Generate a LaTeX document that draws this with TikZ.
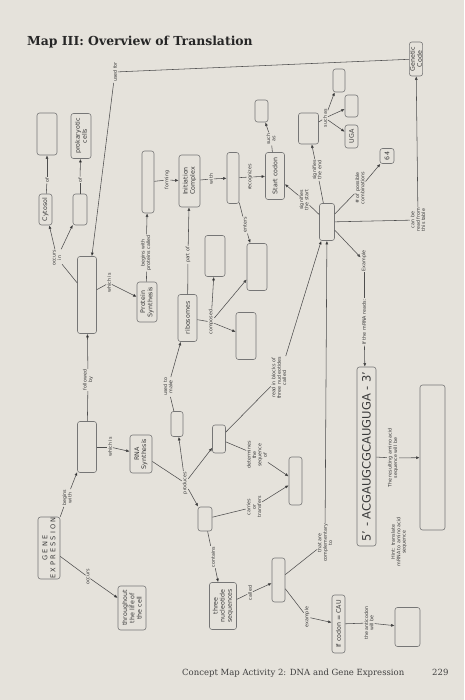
\documentclass[tikz,border=0pt]{standalone}
\usepackage{fontspec}
\setmainfont{DejaVu Serif}
\setsansfont{DejaVu Sans}
\usepackage{tikz}
\usetikzlibrary{arrows.meta}
\usepackage{xcolor}
\definecolor{paper}{RGB}{229,226,219}
\definecolor{boxgray}{RGB}{118,118,118}
\definecolor{conngray}{RGB}{78,78,78}
\definecolor{txtgray}{RGB}{58,58,58}

\begin{document}
\begin{tikzpicture}[x=1pt, y=-1pt]

        % Styles for concepts, linking phrases and links
        \tikzset{concept/.style={draw=boxgray, line width=0.6pt, rounded corners=2.5pt, rotate=90, align=center,
                    inner sep=0.6pt, text=txtgray, font=\sffamily\fontsize{6.3}{7.2}\selectfont}}
        \tikzset{phrase/.style={rotate=90, align=center, inner sep=0.8pt, text=txtgray,
                    font=\sffamily\fontsize{4.8}{5.4}\selectfont}}
        \tikzset{conn/.style={draw=conngray, line width=0.55pt}}
        \tikzset{arr/.style={-{Latex[length=3.6pt,width=3pt]}}}

        \useasboundingbox (0,0) rectangle (464,700);
        \fill[paper] (0,0) rectangle (464,700);

        % =================================================================
        % 1. PAGE TEXT
        % =================================================================

        \node[anchor=base west, inner sep=0pt, text=black!85, font=\bfseries\fontsize{12.4}{14}\selectfont] (title) at (27,46) {Map III: Overview of Translation};
        \node[anchor=base west, inner sep=0pt, text=black!75, font=\fontsize{8.5}{10}\selectfont] (footer) at (182,675) {Concept Map Activity 2: DNA and Gene Expression};
        \node[anchor=base west, inner sep=0pt, text=black!75, font=\fontsize{8.5}{10}\selectfont] (pageno) at (432,675) {229};

        % =================================================================
        % 2. CONCEPTS (minimum width = height on the page, as they are turned)
        % =================================================================

        \node[concept, minimum width=34pt, minimum height=12pt] (gcode) at (416,59) {Genetic\\Code};
        \node[concept, minimum width=31pt, minimum height=13pt] (cytosol) at (45.5,209.5) {Cytosol};
        \node[concept, minimum width=42pt, minimum height=20pt] (bcyt) at (47,134) {};
        \node[concept, minimum width=45pt, minimum height=20pt] (prok) at (81,136) {prokaryotic\\cells};
        \node[concept, minimum width=31pt, minimum height=14pt] (bprok) at (80,209.5) {};
        \node[concept, minimum width=77pt, minimum height=19pt] (transl) at (87,295) {};
        \node[concept, minimum width=51pt, minimum height=19pt] (transc) at (87,447) {};
        \node[concept, minimum width=58pt, minimum height=22pt, font=\sffamily\fontsize{6.6}{8}\selectfont] (gene) at (49,548) {G E N E\\E X P R E S S I O N};
        \node[concept, minimum width=44pt, minimum height=28pt] (life) at (132,608) {throughout\\the life of\\the cell};
        \node[concept, minimum width=40pt, minimum height=20pt] (protsyn) at (147,302) {Protein\\Synthesis};
        \node[concept, minimum width=38pt, minimum height=22pt] (rnasyn) at (141,454) {RNA\\Synthesis};
        \node[concept, minimum width=62pt, minimum height=12pt] (initf) at (148,182) {};
        \node[concept, minimum width=52pt, minimum height=21pt] (initc) at (189.5,181) {Initiation\\Complex};
        \node[concept, minimum width=51pt, minimum height=12pt] (mrna) at (233,178) {};
        \node[concept, minimum width=47pt, minimum height=19pt] (start) at (275,176) {Start codon};
        \node[concept, minimum width=22pt, minimum height=13pt] (bstart) at (261.5,111) {};
        \node[concept, minimum width=47pt, minimum height=19pt] (ribo) at (187.5,318) {ribosomes};
        \node[concept, minimum width=41pt, minimum height=20pt] (rsuba) at (215,256) {};
        \node[concept, minimum width=47pt, minimum height=20pt] (rsubb) at (257,267) {};
        \node[concept, minimum width=47pt, minimum height=20pt] (rsubc) at (246,336) {};
        \node[concept, minimum width=25pt, minimum height=12pt] (rrna) at (177,424) {};
        \node[concept, minimum width=28pt, minimum height=13pt] (mrnab) at (219,439) {};
        \node[concept, minimum width=24pt, minimum height=14pt] (trna) at (205,519) {};
        \node[concept, minimum width=48pt, minimum height=13pt] (amino) at (295.5,481) {};
        \node[concept, minimum width=47pt, minimum height=27pt] (tripl) at (223,606) {three\\nucleotide\\sequences};
        \node[concept, minimum width=44pt, minimum height=13pt] (anti) at (278.5,580) {};
        \node[concept, minimum width=58pt, minimum height=13pt] (cau) at (338.5,624) {If codon = CAU};
        \node[concept, minimum width=39pt, minimum height=25pt] (antiex) at (407.5,627) {};
        \node[concept, minimum width=37pt, minimum height=15pt] (codon) at (327,222) {};
        \node[concept, minimum width=31pt, minimum height=20pt] (stop) at (308.5,128.5) {};
        \node[concept, minimum width=23pt, minimum height=12pt] (stopa) at (339,80.5) {};
        \node[concept, minimum width=22pt, minimum height=13pt] (stopb) at (351.5,106) {};
        \node[concept, minimum width=23pt, minimum height=13pt] (uga) at (351.5,136.5) {UGA};
        \node[concept, minimum width=15pt, minimum height=14pt] (nsixty) at (387,156) {64};
        \node[concept, minimum width=179pt, minimum height=19pt, font=\sffamily\fontsize{11.5}{13}\selectfont] (seq) at (366.5,456.5) {5' - ACGAUGCGCAUGUGA - 3'};
        \node[concept, minimum width=145pt, minimum height=25pt] (result) at (432.5,457.5) {};

        % =================================================================
        % 3. LINKING PHRASES
        % =================================================================

        \node[phrase] (lusedfor) at (115,72) {used for};
        \node[phrase] (loccin) at (57,258) {occurs\\in};
        \node[phrase] (lofa) at (47,180) {of};
        \node[phrase] (lofb) at (80,180) {of};
        \node[phrase] (lwhicha) at (109,283) {which is};
        \node[phrase] (lfollow) at (88,380) {followed\\by};
        \node[phrase] (lwhichb) at (110,447) {which is};
        \node[phrase] (lbegins) at (67,498) {begins\\with};
        \node[phrase] (loccurs) at (88,577) {occurs};
        \node[phrase] (lproteins) at (146,253) {begins with\\proteins called};
        \node[phrase] (lforming) at (167,180) {forming};
        \node[phrase] (lwith) at (211,179) {with};
        \node[phrase] (lrecog) at (250,177) {recognizes};
        \node[phrase] (lsucha) at (271,139) {such\\as};
        \node[phrase] (lenters) at (245,225) {enters};
        \node[phrase] (lpartof) at (188,255) {part of};
        \node[phrase] (lcomposed) at (211,322) {composed};
        \node[phrase] (lproduces) at (185,483) {produces};
        \node[phrase] (lusedto) at (168,387) {used to\\make};
        \node[phrase] (lreadin) at (279,378) {read in blocks of\\three nucleotides\\called};
        \node[phrase] (ldeterm) at (257,455) {determines\\the\\sequence\\of};
        \node[phrase] (lcarries) at (254,507) {carries\\or\\transfers};
        \node[phrase] (lcontains) at (213,557) {contains};
        \node[phrase] (lcalled) at (250,593) {called};
        \node[phrase] (lcompl) at (325,543) {that are\\complementary\\to};
        \node[phrase] (lexamplea) at (307,617) {example};
        \node[phrase] (lantiwill) at (369,623) {the anticodon\\will be};
        \node[phrase] (lsigstart) at (304,200) {signifies\\the start};
        \node[phrase] (lsigend) at (317,170) {signifies\\the end};
        \node[phrase] (lsuchb) at (325,118) {such as};
        \node[phrase] (lposs) at (360,188) {\# of possible\\combinations};
        \node[phrase] (lcanbe) at (418,220) {can be\\read from\\this table};
        \node[phrase] (lexampleb) at (364,261) {Example};
        \node[phrase] (lifmrna) at (364,322) {If the mRNA reads:};
        \node[phrase] (lresult) at (393,458) {The resulting amino acid\\sequence will be};
        \node[phrase] (hint) at (399,542) {Hint: translate\\mRNA to amino acid\\sequence};

        % =================================================================
        % 4. LINKS
        % =================================================================

        \draw[conn] (gcode) -- (lusedfor) edge[arr] (transl);
        \draw[conn] (transl) -- (loccin) edge[arr] (cytosol) edge[arr] (bprok);
        \draw[conn] (cytosol) -- (lofa) edge[arr] (bcyt);
        \draw[conn] (bprok) -- (lofb) edge[arr] (prok);
        \draw[conn] (transl) -- (lwhicha) edge[arr] (protsyn);
        \draw[conn] (transc) -- (lfollow) edge[arr] (transl);
        \draw[conn] (transc) -- (lwhichb) edge[arr] (rnasyn);
        \draw[conn] (gene) -- (lbegins) edge[arr] (transc);
        \draw[conn] (gene) -- (loccurs) edge[arr] (life);
        \draw[conn] (protsyn) -- (lproteins) edge[arr] (initf);
        \draw[conn] (initf) -- (lforming) edge[arr] (initc);
        \draw[conn] (initc) -- (lwith) edge[arr] (mrna);
        \draw[conn] (mrna) -- (lrecog) edge[arr] (start);
        \draw[conn] (start) -- (lsucha) edge[arr] (bstart);
        \draw[conn] (mrna) -- (lenters) edge[arr] (rsubb);
        \draw[conn] (ribo) -- (lpartof) edge[arr] (initc);
        \draw[conn] (ribo) -- (lcomposed) edge[arr] (rsuba) edge[arr] (rsubb) edge[arr] (rsubc);
        \draw[conn] (rnasyn) -- (lproduces) edge[arr] (rrna) edge[arr] (mrnab) edge[arr] (trna);
        \draw[conn] (rrna) -- (lusedto) edge[arr] (ribo);
        \draw[conn] (mrnab) -- (lreadin) edge[arr] (codon);
        \draw[conn] (mrnab) -- (ldeterm) edge[arr] (amino);
        \draw[conn] (trna) -- (lcarries) edge[arr] (amino);
        \draw[conn] (trna) -- (lcontains) edge[arr] (tripl);
        \draw[conn] (tripl) -- (lcalled) edge[arr] (anti);
        \draw[conn] (anti) -- (lcompl) edge[arr] (codon);
        \draw[conn] (anti) -- (lexamplea) edge[arr] (cau);
        \draw[conn] (cau) -- (lantiwill) edge[arr] (antiex);
        \draw[conn] (codon) -- (lsigstart) edge[arr] (start);
        \draw[conn] (codon) -- (lsigend) edge[arr] (stop);
        \draw[conn] (stop) -- (lsuchb) edge[arr] (stopa) edge[arr] (stopb) edge[arr] (uga);
        \draw[conn] (codon) -- (lposs) edge[arr] (nsixty);
        \draw[conn] (codon) -- (lcanbe) edge[arr] (gcode);
        \draw[conn, arr] (codon) -- (lexampleb);
        \draw[conn] (lexampleb) -- (lifmrna) edge[arr] (seq);
        \draw[conn] (seq) -- (lresult) edge[arr] (result);

\end{tikzpicture}
\end{document}
